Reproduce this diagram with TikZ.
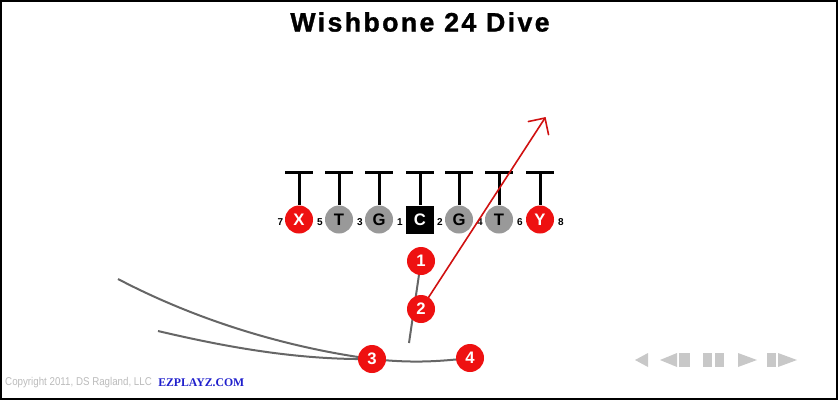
\documentclass[tikz,border=0pt]{standalone}
\usepackage{fontspec}
\setmainfont{Liberation Sans}
\newfontfamily\titlefont[LetterSpace=9,FakeBold=1.2]{Liberation Sans Bold}
\newfontfamily\ezfont{Liberation Serif}
\usetikzlibrary{calc}
\definecolor{pred}{HTML}{EE1111}
\definecolor{pgray}{HTML}{999999}
\definecolor{lgray}{HTML}{666666}
\definecolor{btn}{HTML}{C8C8C8}
\definecolor{cpy}{HTML}{BBBBBB}
\definecolor{ezblue}{HTML}{1F1FCC}
\definecolor{rline}{HTML}{D01010}
\begin{document}
\begin{tikzpicture}[x=0.75pt,y=-0.75pt,
  player/.style={circle,minimum size=21pt,inner sep=0pt,font=\bfseries\fontsize{12.5}{12.5}\selectfont},
  redp/.style={player,fill=pred,text=white},
  grayp/.style={player,fill=pgray,text=black},
  cbox/.style={rectangle,minimum size=21pt,inner sep=0pt,fill=black,text=white,font=\bfseries\fontsize{12.5}{12.5}\selectfont},
  gapnum/.style={inner sep=0pt,font=\bfseries\fontsize{7.5}{7.5}\selectfont},
  blockline/.style={line width=2.25pt,black},
  route/.style={line width=1.5pt,lgray},
  redroute/.style={rline,line width=1.2pt},
  btnshape/.style={fill=btn,draw=none}
]
\useasboundingbox (0,0) rectangle (838,400);
\draw[line width=1.5pt] (1,1) rectangle (837,399);

% title
\node (title) at (420,22) {\titlefont\fontsize{20}{20}\selectfont Wishbone 24 Dive};

% offensive line
\node[redp]  (X)  at (299,219.5) {X};
\node[grayp] (LT) at (339,219.5) {T};
\node[grayp] (LG) at (379,219.5) {G};
\node[cbox]  (C)  at (420,219.5) {C};
\node[grayp] (RG) at (459,219.5) {G};
\node[grayp] (RT) at (499,219.5) {T};
\node[redp]  (Y)  at (540,219.5) {Y};

% blocks
\foreach \p in {X,LT,LG,C,RG,RT,Y}{
  \draw[blockline] (\p.north) -- ++(0,-33) coordinate (b\p);
  \draw[blockline] ([xshift=-10.25pt]b\p) -- ([xshift=10.25pt]b\p);
}

% gap numbers
\node[gapnum] (g7) at (280.5,222) {7};
\node[gapnum] (g5) at (320,222) {5};
\node[gapnum] (g3) at (360,222) {3};
\node[gapnum] (g1) at (400,222) {1};
\node[gapnum] (g2) at (440,222) {2};
\node[gapnum] (g4) at (480,222) {4};
\node[gapnum] (g6) at (520,222) {6};
\node[gapnum] (g8) at (561,222) {8};

% routes (behind backs)
\coordinate (e1) at (409,343);
\coordinate (s3a) at (118,279);
\coordinate (s3b) at (158,331);
\coordinate (tip) at (545,118);
\coordinate (c1) at (421,261);
\coordinate (c2) at (421,309);
\coordinate (c3) at (372,359);
\coordinate (c4) at (470,358);

\draw[route] (c1) -- (e1);
\draw[route] (s3a) .. controls (200,322) and (290,348) .. (c3);
\draw[route] (s3b) .. controls (230,348) and (300,360) .. (c3);
\draw[route] (c3) .. controls (410,363) and (435,362) .. (c4);
\draw[redroute] (c2) -- (tip);
\draw[redroute,line cap=round,line join=miter]
  ($(tip)!12.75pt!45:(c2)$) -- (tip) -- ($(tip)!12.75pt!-45:(c2)$);

% backs on top
\node[redp] (B1) at (c1) {1};
\node[redp] (B2) at (c2) {2};
\node[redp] (B3) at (c3) {3};
\node[redp] (B4) at (c4) {4};

% copyright
\node[anchor=west,inner sep=0pt,text=cpy,font=\fontsize{8.5}{8.5}\selectfont,xscale=0.86] (cp) at (5,383) {Copyright 2011, DS Ragland, LLC};
\node[anchor=west,inner sep=0pt,text=ezblue,font=\ezfont\bfseries\fontsize{8.8}{8.8}\selectfont] (ez) at (158,383) {EZPLAYZ.COM};

% control buttons
\fill[btnshape] (635,360) -- (648,353) -- (648,367) -- cycle;
\fill[btnshape] (660,360) -- (677,353) -- (677,367) -- cycle;
\fill[btnshape] (679,353) rectangle (690,367);
\fill[btnshape] (703,353) rectangle (712,367);
\fill[btnshape] (715,353) rectangle (724,367);
\fill[btnshape] (738,353) -- (757,360) -- (738,367) -- cycle;
\fill[btnshape] (767,353) rectangle (776,367);
\fill[btnshape] (778,353) -- (797,360) -- (778,367) -- cycle;
\end{tikzpicture}
\end{document}
